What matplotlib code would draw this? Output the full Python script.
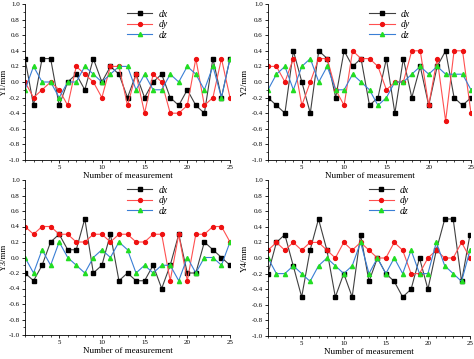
import numpy as np
import matplotlib
matplotlib.use("Agg")
import matplotlib.pyplot as plt
from matplotlib.ticker import MultipleLocator, FormatStrFormatter

plt.rcParams['font.family'] = ['Liberation Serif', 'DejaVu Serif']

# measurement index
n = list(range(1, 26))

# Y1
y1_dx = [0.3, -0.3, 0.3, 0.3, -0.3, 0.0, 0.1, -0.1, 0.3, 0.0, 0.2, 0.1, -0.2, 0.1, -0.2, 0.0, 0.1, -0.2, -0.3, -0.1, -0.3, -0.4, 0.3, -0.2, 0.3]
y1_dy = [0.0, -0.2, -0.1, 0.0, -0.1, -0.3, 0.2, 0.1, 0.0, -0.2, 0.2, 0.2, -0.3, 0.1, -0.4, 0.1, 0.0, -0.4, -0.4, -0.3, 0.3, -0.3, -0.2, 0.3, -0.2]
y1_dz = [-0.1, 0.2, 0.0, 0.0, -0.2, 0.0, 0.0, 0.2, 0.1, 0.0, 0.1, 0.2, 0.2, -0.1, 0.1, -0.1, -0.1, 0.1, 0.0, 0.2, 0.1, -0.1, 0.2, -0.2, 0.3]

# Y2
y2_dx = [-0.2, -0.3, -0.4, 0.4, 0.0, -0.4, 0.4, 0.3, -0.2, 0.4, 0.2, 0.3, -0.3, -0.2, 0.3, -0.4, 0.3, -0.2, 0.2, -0.3, 0.2, 0.4, -0.2, -0.3, -0.2]
y2_dy = [0.2, 0.2, 0.0, 0.3, -0.3, 0.0, 0.3, 0.3, -0.1, -0.3, 0.4, 0.3, 0.3, 0.2, -0.1, 0.0, 0.0, 0.4, 0.4, -0.3, 0.3, -0.5, 0.4, 0.4, -0.4]
y2_dz = [-0.1, 0.1, 0.2, -0.1, 0.2, 0.3, 0.0, 0.2, -0.1, -0.1, 0.1, 0.0, -0.1, -0.3, -0.2, 0.0, 0.0, 0.1, 0.2, 0.1, 0.2, 0.1, 0.1, 0.1, -0.1]

# Y3
y3_dx = [-0.2, -0.3, -0.1, 0.2, 0.3, 0.1, 0.1, 0.5, -0.2, -0.1, 0.3, -0.3, -0.2, -0.3, -0.3, -0.1, -0.4, -0.1, 0.3, -0.2, -0.2, 0.2, 0.1, 0.0, -0.1]
y3_dy = [0.4, 0.3, 0.4, 0.4, 0.3, 0.3, 0.2, 0.2, 0.3, 0.3, 0.2, 0.3, 0.3, 0.2, 0.2, 0.3, 0.3, -0.3, 0.3, -0.3, 0.3, 0.3, 0.4, 0.4, 0.2]
y3_dz = [0.0, -0.2, 0.1, -0.1, 0.2, 0.0, -0.1, -0.2, 0.0, 0.1, 0.0, 0.2, 0.1, -0.2, -0.1, -0.2, -0.1, -0.1, -0.3, 0.0, -0.2, 0.0, 0.0, -0.1, 0.2]

# Y4
y4_dx = [-0.2, 0.2, 0.3, -0.1, -0.5, 0.1, 0.5, 0.1, -0.5, -0.2, -0.5, 0.3, -0.3, 0.0, -0.2, -0.3, -0.5, -0.4, 0.0, -0.4, 0.1, 0.5, 0.5, -0.3, 0.3]
y4_dy = [0.1, 0.2, 0.1, 0.2, 0.1, 0.2, 0.2, 0.1, 0.0, 0.2, 0.1, 0.2, 0.1, 0.0, 0.0, 0.2, 0.1, -0.2, -0.2, 0.0, 0.1, 0.0, 0.0, 0.2, 0.0]
y4_dz = [0.0, -0.2, -0.2, -0.1, -0.2, -0.3, -0.1, 0.0, -0.1, -0.2, -0.1, 0.2, -0.2, 0.0, -0.2, 0.0, -0.2, 0.1, -0.2, -0.2, 0.2, -0.1, -0.2, -0.3, 0.1]

panels = [
    ("Y1/mm", y1_dx, y1_dy, y1_dz),
    ("Y2/mm", y2_dx, y2_dy, y2_dz),
    ("Y3/mm", y3_dx, y3_dy, y3_dz),
    ("Y4/mm", y4_dx, y4_dy, y4_dz),
]

W, H = 474, 359
fig = plt.figure(figsize=(W / 100, H / 100), dpi=100)

# axes boxes in pixels: left, top, right, bottom, ylabel x
boxes = [(25, 4, 230, 160, 8), (268, 4, 471, 160, 249), (25, 180, 230, 335, 8), (268, 180, 470, 336, 249)]

for (lab, dx, dy, dz), (l, t, r, b, yl) in zip(panels, boxes):
    ax = fig.add_axes([l / W, 1 - b / H, (r - l) / W, (b - t) / H])
    ax.plot(n, dx, color='#404040', lw=0.8, marker='s', ms=2.6, mfc='black', mec='black', label='dx')
    ax.plot(n, dy, color='#ff5050', lw=0.8, marker='o', ms=2.8, mfc='#ee1111', mec='#ee1111', label='dy')
    ax.plot(n, dz, color='#3a7fd5', lw=0.8, marker='^', ms=3, mfc='#22dd22', mec='#22dd22', label='dz')
    ax.set_xlim(1, 25)
    ax.set_ylim(-1.0, 1.0)
    ax.xaxis.set_major_locator(MultipleLocator(5))
    ax.xaxis.set_minor_locator(MultipleLocator(1))
    ax.yaxis.set_major_locator(MultipleLocator(0.2))
    ax.yaxis.set_minor_locator(MultipleLocator(0.1))
    ax.yaxis.set_major_formatter(FormatStrFormatter('%.1f'))
    ax.tick_params(labelsize=5, length=2.5, width=0.6, pad=1.2)
    ax.tick_params(which='minor', length=1.5, width=0.5)
    for s in ['top', 'right']:
        ax.spines[s].set_visible(False)
    for s in ['left', 'bottom']:
        ax.spines[s].set_linewidth(0.6)
    ax.set_ylabel(lab, fontsize=6.5)
    ax.yaxis.set_label_coords((yl - l) / (r - l), 0.5)
    ax.set_xlabel("Number of measurement", fontsize=6.5, labelpad=1)
    ax.legend(loc='upper left', frameon=False, prop={'style': 'italic', 'size': 7},
              handlelength=2.6, handletextpad=0.6, borderaxespad=0.2, labelspacing=0.15,
              bbox_to_anchor=(0.47, 1.0))

fig.savefig("out.png", dpi=100)
